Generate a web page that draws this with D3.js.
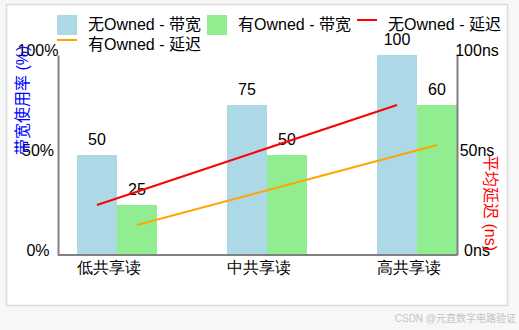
<!DOCTYPE html>
<html>
<head>
<meta charset="utf-8">
<script src="https://cdn.jsdelivr.net/npm/d3@7"></script>
<style>
  html, body { margin: 0; padding: 0; background: #f7f7f7; }
  svg { display: block; font-family: "Liberation Sans", Arial, "Noto Sans CJK SC", sans-serif; }
</style>
</head>
<body>
<div id="chart"></div>
<script>
// data
const categories = ["低共享读", "中共享读", "高共享读"];
const seriesNames = ["无Owned", "有Owned"];
const bwNoOwned = [50, 75, 100];
const bwOwned = [25, 50, 75];
const bwOwnedLabels = [25, 50, 60];   // the third label in the source reads 60
const latNoOwned = [25, 50, 75];
const latOwned = [15, 35, 55];
const yTicks = [0, 50, 100];
const legendItems = [
    {label: "无Owned - 带宽", type: "rect", color: "#add8e6"},
    {label: "有Owned - 带宽", type: "rect", color: "#90ee90"},
    {label: "无Owned - 延迟", type: "line", color: "red"},
    {label: "有Owned - 延迟", type: "line", color: "orange"}
];

const W = 519, H = 330;
const margin = {top: 55, left: 58, right: 62, bottom: 75};
const plotW = W - margin.left - margin.right - 0;  // 399
const plotH = H - margin.top - margin.bottom;      // 200

const svg = d3.select("#chart").append("svg")
    .attr("width", W)
    .attr("height", H);

// frame
svg.append("rect")
    .attr("x", 6.5).attr("y", 4.5)
    .attr("width", 501).attr("height", 301)
    .attr("fill", "#fff")
    .attr("stroke", "#dcdcdc")
    .attr("stroke-width", 1.5);

const g = svg.append("g").attr("transform", `translate(${margin.left},${margin.top})`);

const x0 = d3.scaleBand().domain(categories).range([0, plotW])
    .paddingInner(7 / 15).paddingOuter(0.0633).align(1);
const x1 = d3.scaleBand().domain(seriesNames).range([0, x0.bandwidth()]);
const yBw = d3.scaleLinear().domain([0, 100]).range([plotH, 0]);
const yLat = d3.scaleLinear().domain([0, 100]).range([plotH, 0]);

const rows = categories.map((c, i) => ({
    cat: c,
    bars: [
        {key: "无Owned", value: bwNoOwned[i], label: bwNoOwned[i], color: "#add8e6"},
        {key: "有Owned", value: bwOwned[i], label: bwOwnedLabels[i], color: "#90ee90"}
    ]
}));

// bars
const grp = g.selectAll(".grp").data(rows).join("g")
    .attr("class", "grp")
    .attr("transform", d => `translate(${x0(d.cat)},0)`);

grp.selectAll("rect").data(d => d.bars).join("rect")
    .attr("x", d => x1(d.key))
    .attr("y", d => yBw(d.value))
    .attr("width", x1.bandwidth())
    .attr("height", d => plotH - yBw(d.value))
    .attr("fill", d => d.color);

grp.selectAll("text").data(d => d.bars).join("text")
    .attr("x", d => x1(d.key) + x1.bandwidth() / 2)
    .attr("y", d => yBw(d.value) - 10)
    .attr("text-anchor", "middle")
    .style("font-size", "16px")
    .text(d => d.label);

// latency lines
const line = d3.line().x(d => d.x).y(d => yLat(d.v));
const latSeries = [
    {key: "无Owned", values: latNoOwned, color: "red"},
    {key: "有Owned", values: latOwned, color: "orange"}
];
g.selectAll(".lat").data(latSeries).join("path")
    .attr("class", "lat")
    .attr("fill", "none")
    .attr("stroke", d => d.color)
    .attr("stroke-width", 2)
    .attr("d", s => line(s.values.map((v, i) => ({
        x: x0(categories[i]) + x1(s.key) + x1.bandwidth() / 2, v
    }))));

// axes
const axisColor = "#808080";
const yAxisL = g.append("g").call(d3.axisLeft(yBw).tickValues(yTicks).tickSize(0).tickFormat(d => d + "%"));
const yAxisR = g.append("g").attr("transform", `translate(${plotW},0)`)
    .call(d3.axisRight(yLat).tickValues(yTicks).tickSize(0).tickFormat(d => d + "ns"));
const xAxis = g.append("g").attr("transform", `translate(0,${plotH})`)
    .call(d3.axisBottom(x0).tickSize(0));

[yAxisL, yAxisR, xAxis].forEach(a => {
    a.select(".domain").attr("stroke", axisColor).attr("stroke-width", 2);
    a.selectAll("text").style("font-size", "16px").attr("fill", "#000");
});
xAxis.select(".domain").attr("d", `M0,0H${plotW}`);
yAxisL.selectAll("text").attr("x", -20).attr("dy", 0).attr("text-anchor", "middle");
yAxisR.selectAll("text").attr("x", 20).attr("dy", 0).attr("text-anchor", "middle");
xAxis.selectAll("text").attr("x", -x0.bandwidth() / 2).attr("y", 18).attr("dy", 0)
    .attr("text-anchor", "start");

// axis titles
g.append("text")
    .attr("transform", "rotate(-90)")
    .attr("x", -plotH / 2)
    .attr("y", -30)
    .attr("fill", "blue")
    .style("font-size", "16px")
    .text("带宽使用率 (%)");

g.append("text")
    .attr("transform", "rotate(90)")
    .attr("x", plotH / 2)
    .attr("y", -(plotW + 28))
    .attr("fill", "red")
    .style("font-size", "16px")
    .text("平均延迟 (ns)");

// legend
const legend = svg.append("g").attr("transform", "translate(57,15)");
const li = legend.selectAll("g").data(legendItems).join("g")
    .attr("transform", (d, i) => `translate(${(i % 3) * 150},${Math.floor(i / 3) * 20})`);
li.filter(d => d.type === "rect").append("rect")
    .attr("width", 20).attr("height", 20).attr("fill", d => d.color);
li.filter(d => d.type === "line").append("line")
    .attr("x1", 0).attr("x2", 20).attr("y1", 5).attr("y2", 5)
    .attr("stroke", d => d.color).attr("stroke-width", 2);
li.append("text")
    .attr("x", 31).attr("y", 15)
    .style("font-size", "16px")
    .text(d => d.label);

// watermark
svg.append("text")
    .attr("x", 516).attr("y", 322)
    .attr("text-anchor", "end")
    .attr("fill", "#c4c4c4")
    .style("font-size", "10px")
    .text("CSDN @元直数字电路验证");
</script>
</body>
</html>
